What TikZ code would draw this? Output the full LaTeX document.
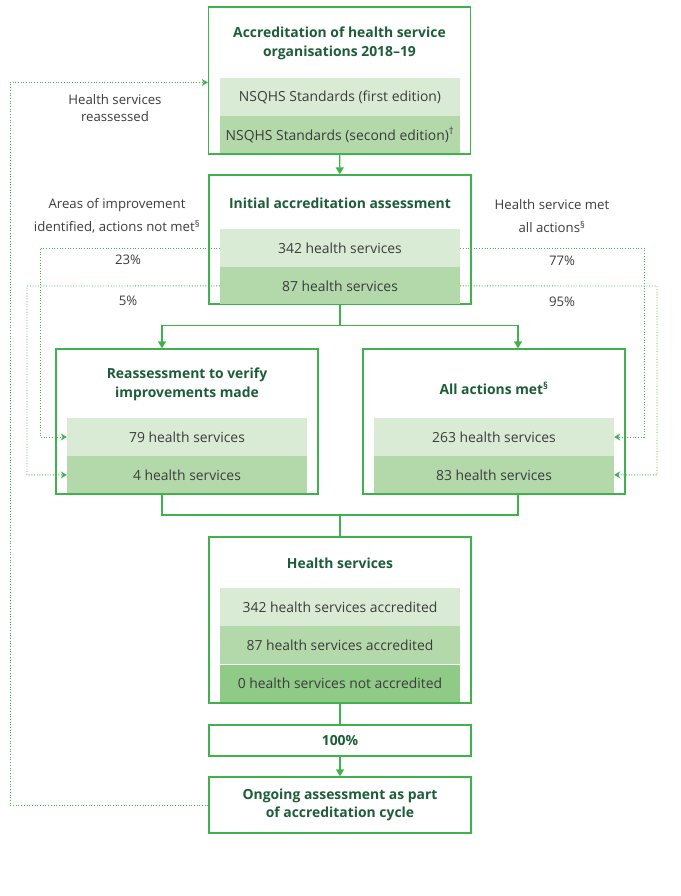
\documentclass[tikz,border=0pt]{standalone}
\usepackage{fontspec}
\setmainfont{Open Sans}
\usepackage{xcolor}
\usepackage{tikz}
\usetikzlibrary{arrows.meta,positioning}
\definecolor{ACGreen}{HTML}{3FB24B}
\definecolor{ACDark}{HTML}{1D5C39}
\definecolor{ACText}{HTML}{3C3C3C}
\definecolor{ACLight}{HTML}{D9EBD5}
\definecolor{ACMid}{HTML}{B3D9AB}
\definecolor{ACDeep}{HTML}{8FCA87}

\begin{document}
\begin{tikzpicture}[
        x=1pt,y=-1pt,
        every node/.style={font=\fontsize{13.9}{17}\selectfont,text=ACText},
        panel/.style={draw=ACGreen,line width=1.4pt,minimum width=262pt,inner sep=0pt},
        head/.style={font=\fontsize{13.9}{19}\selectfont\bfseries,text=ACDark,align=center},
        band/.style={minimum width=240pt,minimum height=38pt,inner sep=0pt},
        side/.style={align=center,font=\fontsize{13.2}{17}\selectfont},
        arrow/.style={-{Triangle[width=8pt,length=7pt]},line width=1.4pt,draw=ACGreen},
        link/.style={line width=1.4pt,draw=ACGreen},
        dotlink/.style={-{Stealth[width=7pt,length=6pt]},line width=0.9pt,draw=ACGreen,dash pattern=on 0.9pt off 1.8pt}
      ]
      \useasboundingbox (0,0) rectangle (680,896);

      \node[panel,minimum height=147pt] (accred) at (339.5,80.5) {};
      \node[head] (accredhead) at (339.5,43.5) {Accreditation of health service\\organisations 2018–19};
      \node[band,fill=ACLight] (std1) at (340,97) {NSQHS Standards (first edition)};
      \node[band,fill=ACMid,minimum height=37pt,below=0pt of std1] (std2) {NSQHS Standards (second edition)\textsuperscript{†}};

      \node[panel,minimum height=129pt] (init) at (340,239.5) {};
      \node[head] (inithead) at (340,203) {Initial accreditation assessment};
      \node[band,fill=ACLight] (init342) at (340,248) {342 health services};
      \node[band,fill=ACMid,minimum height=37pt,below=0pt of init342] (init87) {87 health services};

      \node[panel,minimum height=145pt] (reass) at (187,421.5) {};
      \node[head] (reasshead) at (187,384) {Reassessment to verify\\improvements made};
      \node[band,fill=ACLight] (reass79) at (187,437) {79 health services};
      \node[band,fill=ACMid,minimum height=37pt,below=0pt of reass79] (reass4) {4 health services};

      \node[panel,minimum height=145pt] (met) at (494,421.5) {};
      \node[head] (methead) at (494,388) {All actions met\textsuperscript{§}};
      \node[band,fill=ACLight] (met263) at (494,437) {263 health services};
      \node[band,fill=ACMid,minimum height=37pt,below=0pt of met263] (met83) {83 health services};

      \node[panel,minimum height=166pt] (hs) at (340,620) {};
      \node[head] (hshead) at (340,563) {Health services};
      \node[band,fill=ACLight] (hs342) at (340,607) {342 health services accredited};
      \node[band,fill=ACMid,below=0pt of hs342] (hs87) {87 health services accredited};
      \node[band,fill=ACDeep,minimum height=37pt,below=0pt of hs87] (hs0) {0 health services not accredited};

      \node[panel,head,minimum height=31pt] (pct) at (340,740.5) {100\%};
      \node[panel,head,minimum height=56pt,font=\fontsize{13.9}{18}\selectfont\bfseries] (ongoing) at (340,805) {Ongoing assessment as part\\of accreditation cycle};

      \node[side] (reassessed) at (115,108) {Health services\\reassessed};
      \node[side,font=\fontsize{13.2}{23.5}\selectfont] (notmet) at (117,216) {Areas of improvement\\identified, actions not met\textsuperscript{§}};
      \node[side] (pctA) at (128,260) {23\%};
      \node[side] (pctB) at (128,301) {5\%};
      \node[side,font=\fontsize{13.2}{23}\selectfont] (allmet) at (552,216) {Health service met\\all actions\textsuperscript{§}};
      \node[side] (pctC) at (562,261) {77\%};
      \node[side] (pctD) at (562,302) {95\%};

      \coordinate (split) at (340,325.5);
      \coordinate (splitL) at (162,325.5);
      \coordinate (splitR) at (518,325.5);
      \coordinate (join) at (340,515);
      \coordinate (backL) at (10,805);
      \coordinate (notmetA) at (40,248);
      \coordinate (notmetB) at (27,286);
      \coordinate (metA) at (644,248);
      \coordinate (metB) at (657,286);

      \draw[arrow] (accred) -- (init);
      \draw[link] (init) -- (split);
      \draw[arrow] (split) -- (splitL) -- (splitL |- reass.north);
      \draw[arrow] (split) -- (splitR) -- (splitR |- met.north);
      \draw[link] (splitL |- reass.south) |- (join) -| (splitR |- met.south);
      \draw[link] (join) -- (hs);
      \draw[link] (hs) -- (pct);
      \draw[arrow] (pct) -- (ongoing);

      \draw[dotlink] (ongoing.west) -- (backL) |- ([yshift=-2pt]accred.west);
      \draw[dotlink] (init342.west) -- (notmetA) |- (reass79.west);
      \draw[dotlink] (init87.west) -- (notmetB) |- (reass4.west);
      \draw[dotlink] (init342.east) -- (metA) |- (met263.east);
      \draw[dotlink] (init87.east) -- (metB) |- (met83.east);
    \end{tikzpicture}
\end{document}
